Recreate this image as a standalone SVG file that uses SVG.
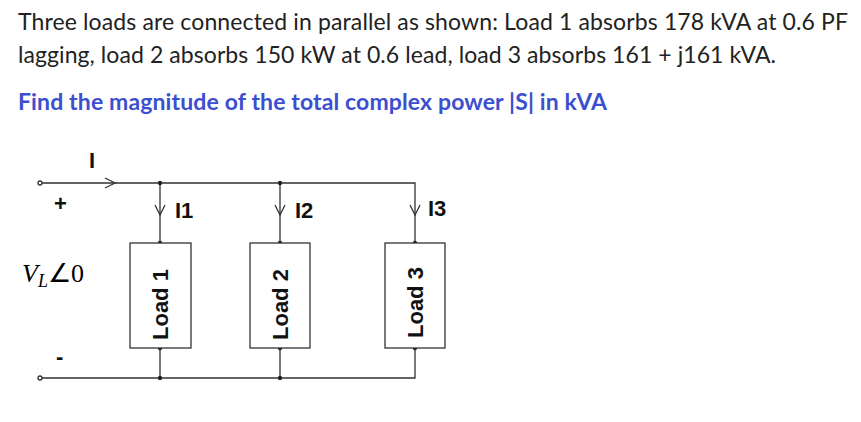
<svg xmlns="http://www.w3.org/2000/svg" width="861" height="422" viewBox="0 0 861 422">
<style>
.t{font-family:Lato,"Open Sans",sans-serif;font-size:23px;fill:#222}
.q{font-family:Lato,"Open Sans",sans-serif;font-size:23px;font-weight:bold;fill:#3b4fd0}
.w{stroke:#333;stroke-width:1.3;fill:none}
.b{stroke:#333;stroke-width:1.3;fill:#fff}
.l{font-family:"Liberation Sans",Arial,sans-serif;font-size:22px;font-weight:bold;fill:#111}
.d{fill:#222}
</style>
<rect width="861" height="422" fill="#fff"/>
<text class="t" x="18" y="30" textLength="830">Three loads are connected in parallel as shown: Load 1 absorbs 178 kVA at 0.6  PF</text>
<text class="t" x="18" y="63" textLength="758">lagging, load 2 absorbs 150 kW at 0.6 lead, load 3 absorbs 161 + j161 kVA.</text>
<text class="q" x="18" y="110" textLength="589">Find the magnitude of the total complex power |S| in kVA</text>
<g id="connectors">
<path class="w" d="M41 183H415V243M160 183V243M280 183V243M41 378H415V348M160 348V378M280 348V378"/>
<path class="w" d="M105 178L115 183L105 188M155 205L160 215L165 205M275 205L280 215L285 205M410 205L415 215L420 205"/>
<circle cx="40" cy="183" r="2" class="b"/><circle cx="40" cy="378" r="2" class="b"/>
<g class="d"><circle cx="160" cy="183" r="2.2"/><circle cx="280" cy="183" r="2.2"/><circle cx="160" cy="378" r="2.2"/><circle cx="280" cy="378" r="2.2"/>
<circle cx="160" cy="243" r="2.2"/><circle cx="280" cy="243" r="2.2"/><circle cx="415" cy="243" r="2.2"/>
<circle cx="160" cy="348" r="2.2"/><circle cx="280" cy="348" r="2.2"/><circle cx="415" cy="348" r="2.2"/></g>
</g>
<text class="l" x="89" y="168">I</text>
<text class="l" x="175" y="218">I1</text>
<text class="l" x="295" y="218">I2</text>
<text class="l" x="428" y="216">I3</text>
<text class="l" x="54" y="211">+</text>
<text class="l" x="56" y="364">-</text>
<text x="22" y="282" font-family="Liberation Serif,serif" font-size="26" font-style="italic">V<tspan font-size="18" dy="5">L</tspan><tspan dy="-5" font-style="normal">∠0</tspan></text>
<g id="load1"><rect class="b" x="130" y="243" width="61" height="105"/><text class="l" transform="translate(168 340) rotate(-90)">Load 1</text></g>
<g id="load2"><rect class="b" x="250" y="243" width="60" height="105"/><text class="l" transform="translate(288 340) rotate(-90)">Load 2</text></g>
<g id="load3"><rect class="b" x="385" y="243" width="60" height="105"/><text class="l" transform="translate(423 338) rotate(-90)">Load 3</text></g>
</svg>
